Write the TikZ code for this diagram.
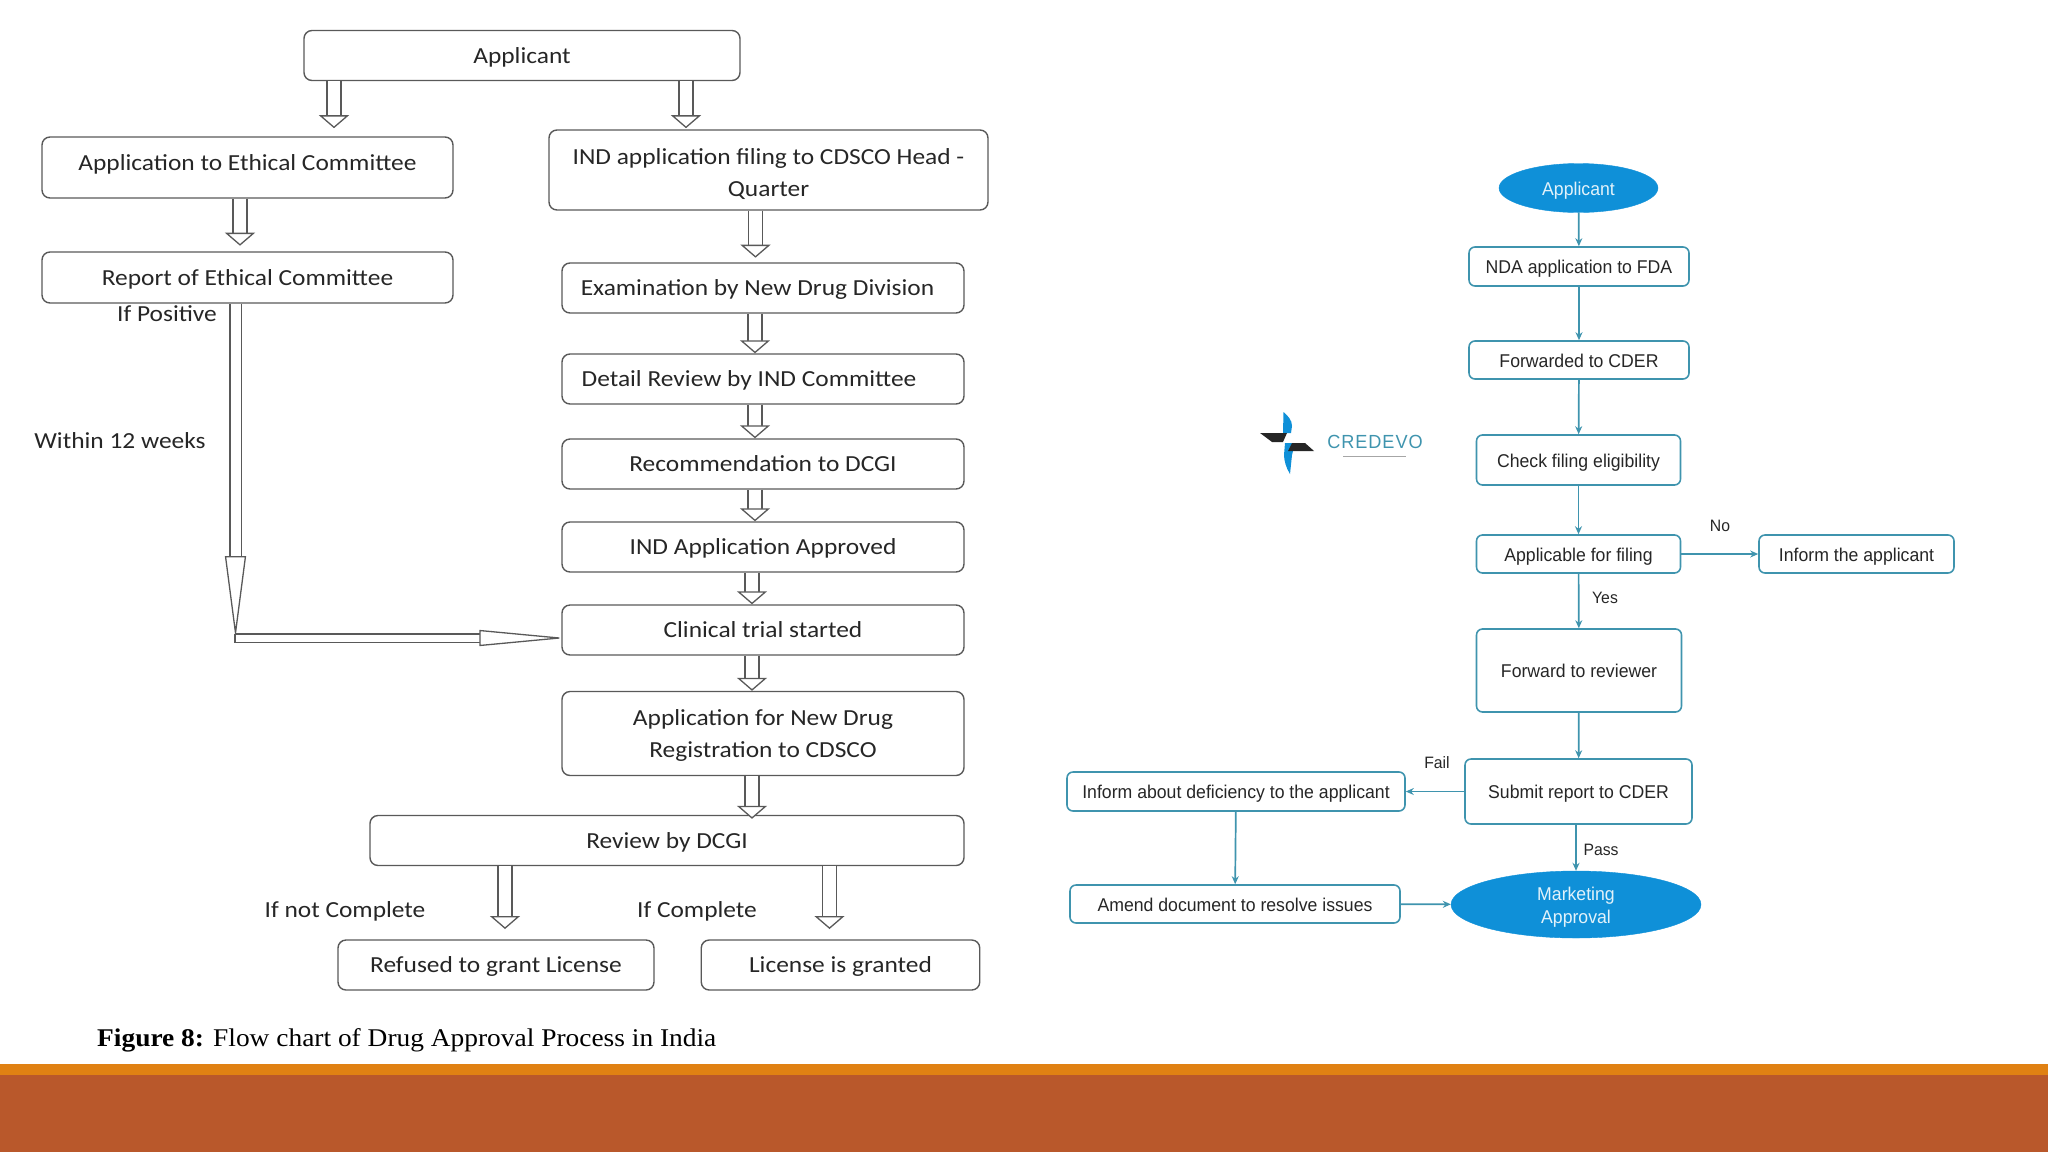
\documentclass[tikz,border=0pt]{standalone}
\usepackage{fontspec}
\usetikzlibrary{arrows.meta,positioning,shapes.geometric}
\setmainfont{Liberation Serif}
\newfontfamily\boxfont[FakeStretch=1.105]{Carlito}
\newfontfamily\flowfont[FakeStretch=0.955]{Liberation Sans}
\definecolor{flowteal}{HTML}{3F94AE}
\definecolor{flowblue}{HTML}{0F90D8}
\definecolor{bandorange}{HTML}{E08113}
\definecolor{bandbrown}{HTML}{B9582B}
\tikzset{
	bigbox/.style={draw=black!65,line width=1.4pt,rounded corners=8pt,inner sep=0pt,align=center,
		font=\boxfont\fontsize{23}{32}\selectfont,text=black!85},
	oneline/.style={text height=19pt,text depth=4pt},
	biglabel/.style={font=\boxfont\fontsize{23}{31}\selectfont,text=black!85,inner sep=0pt},
	blockarrow/.style={draw=black!65,line width=1.3pt,double=white,double distance=12.5pt,
		-{Triangle[open,fill=white,length=13pt,width=30pt]}},
	flowbox/.style={draw=flowteal,line width=1.6pt,rounded corners=6pt,inner sep=0pt,align=center,
		font=\flowfont\fontsize{18.5}{23}\selectfont,text=black!85,text height=17pt,text depth=2.6pt},
	flowoval/.style={ellipse,fill=flowblue,draw=flowblue,inner sep=0pt,align=center,
		font=\flowfont\fontsize{18.5}{23}\selectfont,text=white!88!flowblue},
	flowlabel/.style={font=\flowfont\fontsize{16.5}{20}\selectfont,text=black!85,inner sep=0pt},
	flowline/.style={draw=flowteal,line width=1.7pt,-{Stealth[length=8pt,width=7pt]}},
}
\begin{document}
\begin{tikzpicture}[x=1pt,y=-1pt]
	\useasboundingbox (0,0) rectangle (2048,1152);
	\fill [bandorange] (0,1064) rectangle (2048,1075);
	\fill [bandbrown] (0,1075) rectangle (2048,1152);
	% left chart
	\node [bigbox,oneline,minimum width=436pt,minimum height=50pt] (apl) at (522,55.5) {Applicant};
	\node [bigbox,text height=15pt,text depth=9pt,minimum width=411pt,minimum height=61pt] (eca) at (247.5,167.5) {Application to Ethical Committee};
	\node [bigbox,oneline,minimum width=411pt,minimum height=51pt] (ecr) at (247.5,277.5) {Report of Ethical Committee};
	\node [bigbox,minimum width=439pt,minimum height=80pt] (ind) at (768.5,170) {\rule{0pt}{25pt}IND application filing to CDSCO Head -\\Quarter};
	\node [bigbox,oneline,minimum width=402pt,minimum height=50pt] (exm) at (763,288) {Examination by New Drug Division\hspace*{11pt}};
	\node [bigbox,oneline,minimum width=402pt,minimum height=50pt] (rev) at (763,379) {Detail Review by IND Committee\hspace*{28pt}};
	\node [bigbox,oneline,minimum width=402pt,minimum height=50pt] (rec) at (763,464) {Recommendation to DCGI};
	\node [bigbox,oneline,minimum width=402pt,minimum height=50pt] (apr) at (763,547) {IND Application Approved};
	\node [bigbox,oneline,minimum width=402pt,minimum height=50pt] (cli) at (763,630) {Clinical trial started};
	\node [bigbox,minimum width=402pt,minimum height=84pt] (reg) at (763,733.5) {\rule{0pt}{19pt}Application for New Drug\\Registration to CDSCO};
	\node [bigbox,oneline,minimum width=594pt,minimum height=50pt] (dcg) at (667,840.5) {Review by DCGI};
	\node [bigbox,oneline,minimum width=316pt,minimum height=50pt] (ref) at (496,965) {Refused to grant License};
	\node [bigbox,oneline,minimum width=278.5pt,minimum height=50pt] (lic) at (840.5,965) {License is granted};
	\node [biglabel] (pos) at (167,314) {If Positive};
	\node [biglabel] (wit) at (120,441) {Within 12 weeks};
	\node [biglabel] (not) at (345,911) {If not Complete};
	\node [biglabel] (cmp) at (697,911) {If Complete};
	\node [inner sep=0pt,anchor=base west,font=\addfontfeature{FakeStretch=1.075}\fontsize{25.5}{30}\selectfont] (cap) at (97,1046) {\textbf{Figure 8:} Flow chart of Drug Approval Process in India};
	% block arrows
	\draw [blockarrow] ([xshift=-188pt]apl.south) -- ++(0,47);
	\draw [blockarrow] ([xshift=164pt]apl.south) -- ++(0,47);
	\draw [blockarrow] ([xshift=-7.5pt]eca.south) -- ++(0,47);
	\draw [blockarrow] ([xshift=-13pt]ind.south) -- ++(0,47);
	\draw [blockarrow] ([xshift=-8pt]exm.south) -- ([xshift=-8pt]rev.north);
	\draw [blockarrow] ([xshift=-8pt]rev.south) -- ([xshift=-8pt]rec.north);
	\draw [blockarrow] ([xshift=-8pt]rec.south) -- ([xshift=-8pt]apr.north);
	\draw [blockarrow] ([xshift=-11pt]apr.south) -- ([xshift=-11pt]cli.north);
	\draw [blockarrow] ([xshift=-11pt]cli.south) -- ([xshift=-11pt]reg.north);
	\draw [blockarrow] ([xshift=-11pt]reg.south) -- ([xshift=-11pt,yshift=-4pt]dcg.north -| cli);
	\draw [blockarrow] (505,865.5) -- (505,929);
	\draw [blockarrow] (829.5,865.5) -- (829.5,929);
	% long arrow to the trial box
	\coordinate (bend) at (235.5,638);
	\draw [blockarrow,double distance=10pt,-{Triangle[open,fill=white,length=82pt,width=21pt]}] ([xshift=-12pt]ecr.south) -- (bend);
	\draw [blockarrow,double distance=7pt,-{Triangle[open,fill=white,length=87pt,width=16pt]}] (bend) -- ([xshift=5pt]cli.west |- bend);
	\draw [draw=black!65,line width=1.2pt] (235,633.5) -- (235,642.5);
	% right chart
	\node [flowoval,minimum width=159pt,minimum height=49pt] (fap) at (1578.5,188) {\rule{0pt}{18pt}Applicant};
	\node [flowbox,minimum width=220pt,minimum height=39pt] (nda) at (1579,266.5) {NDA application to FDA};
	\node [flowbox,minimum width=220pt,minimum height=38pt] (cdr) at (1579,360) {Forwarded to CDER};
	\node [flowbox,minimum width=204pt,minimum height=50pt] (chk) at (1578.5,460) {Check filing eligibility};
	\node [flowbox,minimum width=204pt,minimum height=38pt] (afl) at (1578.5,554) {Applicable for filing};
	\node [flowbox,minimum width=195pt,minimum height=38pt] (inf) at (1856.5,554) {Inform the applicant};
	\node [flowbox,minimum width=205pt,minimum height=83pt] (fwd) at (1579,670.5) {Forward to reviewer};
	\node [flowbox,minimum width=227pt,minimum height=65pt] (sub) at (1578.5,791.5) {Submit report to CDER};
	\node [flowbox,minimum width=338pt,minimum height=39pt] (def) at (1236,791.5) {Inform about deficiency to the applicant};
	\node [flowbox,minimum width=330pt,minimum height=38pt] (amd) at (1235,904) {Amend document to resolve issues};
	\node [flowoval,minimum width=250pt,minimum height=67pt] (mkt) at (1576,904.5) {\rule{0pt}{18pt}Marketing\\Approval};
	\node [flowlabel] (lno) at (1720,526) {No};
	\node [flowlabel] (lye) at (1605,598) {Yes};
	\node [flowlabel] (lfa) at (1437,763) {Fail};
	\node [flowlabel] (lpa) at (1601,850) {Pass};
	\draw [flowline] (fap) -- (nda);
	\draw [flowline] (nda) -- (cdr);
	\draw [flowline] (cdr) -- (chk);
	\draw [flowline] (chk) -- (afl);
	\draw [flowline] (afl) -- (inf);
	\draw [flowline] (afl) -- (fwd);
	\draw [flowline] (fwd) -- (sub);
	\draw [flowline] (sub) -- (def);
	\draw [flowline] (sub.south -| mkt) -- (mkt);
	\draw [flowline] (def) -- (amd);
	\draw [flowline] (amd) -- (mkt);
	% logo
	\fill [flowblue] (1283.5,412) .. controls (1288,416) and (1292,420) .. (1292,426) -- (1291,433) -- (1283,433) -- cycle;
	\fill [flowblue] (1285,443) -- (1295,443) -- (1292,455) -- (1290,474) .. controls (1286,468) and (1284,460) .. (1284,455) -- cycle;
	\fill [black!85] (1260,433) -- (1287,433) -- (1283,442) -- (1272,442) -- cycle;
	\fill [black!85] (1292,443) -- (1305,443) -- (1314,451) -- (1288,451) -- cycle;
	\node [inner sep=0pt,font=\flowfont\fontsize{19}{20}\selectfont,text=flowteal] (crd) at (1375,442) {\addfontfeature{LetterSpace=5}CREDEVO};
	\draw [black!35,line width=1pt] (1343,456) -- (1406,456);
\end{tikzpicture}
\end{document}
